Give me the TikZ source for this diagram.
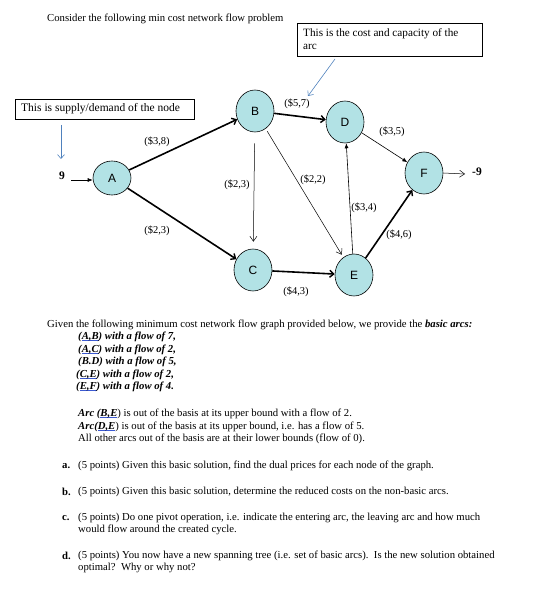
\documentclass[tikz,border=0pt]{standalone}
\usepackage{fontspec}
\setmainfont{Liberation Serif}
\setsansfont{Liberation Sans}
\usetikzlibrary{shapes.geometric,arrows.meta}
\definecolor{nodecol}{RGB}{178,226,229}
\definecolor{bluearr}{RGB}{79,129,189}
\definecolor{ulblue}{RGB}{60,90,210}
\newlength\ulwd
\newcommand{\ul}[1]{\settowidth{\ulwd}{#1}\leavevmode\rlap{\color{ulblue}\rule[-1.4pt]{\ulwd}{0.6pt}}#1}
\begin{document}
\begin{tikzpicture}[x=1pt,y=-1pt,
  nd/.style={ellipse,draw,line width=0.6pt,fill=nodecol,minimum width=38pt,minimum height=42pt,inner sep=0pt,font=\sffamily\fontsize{12}{14}\selectfont},
  ndsmall/.style={nd,minimum height=34pt},
  lbl/.style={font=\fontsize{10.5}{12}\selectfont,inner sep=0pt},
  txt/.style={anchor=west,inner sep=0pt,font=\fontsize{10.7}{12}\selectfont},
  boxed/.style={draw,line width=0.7pt,inner sep=0pt,anchor=north west},
  thickarr/.style={line width=1.6pt,-{Straight Barb[length=4pt,width=7pt,line width=1.4pt]}},
  thinarr/.style={line width=0.5pt,-{Straight Barb[length=5pt,width=7pt]}},
  thinfill/.style={line width=0.6pt,-{Latex[length=5pt,width=4pt]}},
  bluea/.style={bluearr,line width=0.6pt,-{Straight Barb[length=4pt,width=7pt]}}
]
\useasboundingbox (0,0) rectangle (545,596);

% title
\node[txt] (title) at (47,19) {Consider the following min cost network flow problem};

% annotation boxes
\node[boxed,minimum width=179pt,minimum height=20pt] (sbox) at (15,99) {};
\node[txt,font=\fontsize{11.5}{12}\selectfont] (stext) at (21,109) {This is supply/demand of the node};
\node[boxed,minimum width=185pt,minimum height=33pt] (cbox) at (297,23) {};
\node[txt,font=\fontsize{11.2}{12}\selectfont] (ct1) at (303,34) {This is the cost and capacity of the};
\node[txt,font=\fontsize{11.2}{12}\selectfont] (ct2) at (303,47) {arc};

\coordinate (s1) at (61,125);
\coordinate (s2) at (61,159);
\draw[bluea] (s1) -- (s2);
\coordinate (c1) at (335,59);
\coordinate (c2) at (308,96);
\draw[bluea] (c1) -- (c2);

% nodes
\node[ndsmall] (A) at (112,178) {A};
\node[nd] (B) at (255,111) {B};
\node[nd] (D) at (345,122) {D};
\node[nd] (F) at (424,173) {F};
\node[nd] (C) at (253,270) {C};
\node[nd] (E) at (354,275) {E};

% supply / demand
\node[font=\bfseries\fontsize{11.5}{12}\selectfont,inner sep=0pt] (nine) at (62,176) {9};
\node[font=\bfseries\fontsize{11.5}{12}\selectfont,inner sep=0pt] (mnine) at (477,172) {-9};
\coordinate (in) at (71,180);
\draw[thinfill] (in) -- (in -| A.west);
\coordinate (out) at (465,174);
\draw[thinarr] (F.east) -- (out);

% arcs
\draw[thickarr] (A) -- (B);
\draw[thickarr] (A) -- (C);
\draw[thickarr] (B) -- (D);
\draw[thinarr,shorten <=11pt,shorten >=7pt] (B) -- (C);
\draw[thinarr,shorten <=3pt,shorten >=3pt] (B) -- (E);
\draw[thinfill] (D) -- (F);
\draw[thinfill] (E) -- (D);
\draw[thickarr] (C) -- (E);
\draw[thickarr] (E) -- (F);

% arc labels
\node[lbl] (lab) at (157,142) {(\$3,8)};
\node[lbl] (lac) at (157,231) {(\$2,3)};
\node[lbl] (lbd) at (297,104) {(\$5,7)};
\node[lbl] (lbc) at (237,185) {(\$2,3)};
\node[lbl] (lbe) at (313,180) {(\$2,2)};
\node[lbl] (ldf) at (392,132) {(\$3,5)};
\node[lbl] (led) at (364,208) {(\$3,4)};
\node[lbl] (lef) at (399,235) {(\$4,6)};
\node[lbl] (lce) at (296,292) {(\$4,3)};

% text below
\node[txt] (g0) at (47,325) {Given the following minimum cost network flow graph provided below, we provide the \textbf{\textit{basic arcs:}}};
\node[txt] (g1) at (78,337) {\textbf{\textit{(\ul{A,B}) with a flow of 7,}}};
\node[txt] (g2) at (78,350) {\textbf{\textit{(\ul{A,C}) with a flow of 2,}}};
\node[txt] (g3) at (78,362) {\textbf{\textit{(B.D) with a flow of 5,}}};
\node[txt] (g4) at (76,375) {\textbf{\textit{(\ul{C,E}) with a flow of 2,}}};
\node[txt] (g5) at (76,387) {\textbf{\textit{(\ul{E,F}) with a flow of 4.}}};

\node[txt] (h1) at (78,414) {\textbf{\textit{Arc (\ul{B,E}}}) is out of the basis at its upper bound with a flow of 2.};
\node[txt] (h2) at (78,427) {\textbf{\textit{Arc(\ul{D,E}}}) is out of the basis at its upper bound, i.e. has a flow of 5.};
\node[txt] (h3) at (78,439) {All other arcs out of the basis are at their lower bounds (flow of 0).};

\node[txt] (qa) at (62,466) {\textbf{a.}};
\node[txt] (qat) at (78,466) {(5 points) Given this basic solution, find the dual prices for each node of the graph.};
\node[txt] (qb) at (62,492) {\textbf{b.}};
\node[txt] (qbt) at (78,492) {(5 points) Given this basic solution, determine the reduced costs on the non-basic arcs.};
\node[txt] (qc) at (62,518) {\textbf{c.}};
\node[txt] (qct) at (78,518) {(5 points) Do one pivot operation, i.e. indicate the entering arc, the leaving arc and how much};
\node[txt] (qct2) at (78,530) {would flow around the created cycle.};
\node[txt] (qd) at (62,556) {\textbf{d.}};
\node[txt] (qdt) at (78,556) {(5 points) You now have a new spanning tree (i.e. set of basic arcs).\ \ Is the new solution obtained};
\node[txt] (qdt2) at (78,568) {optimal?\ \ Why or why not?};
\end{tikzpicture}
\end{document}
